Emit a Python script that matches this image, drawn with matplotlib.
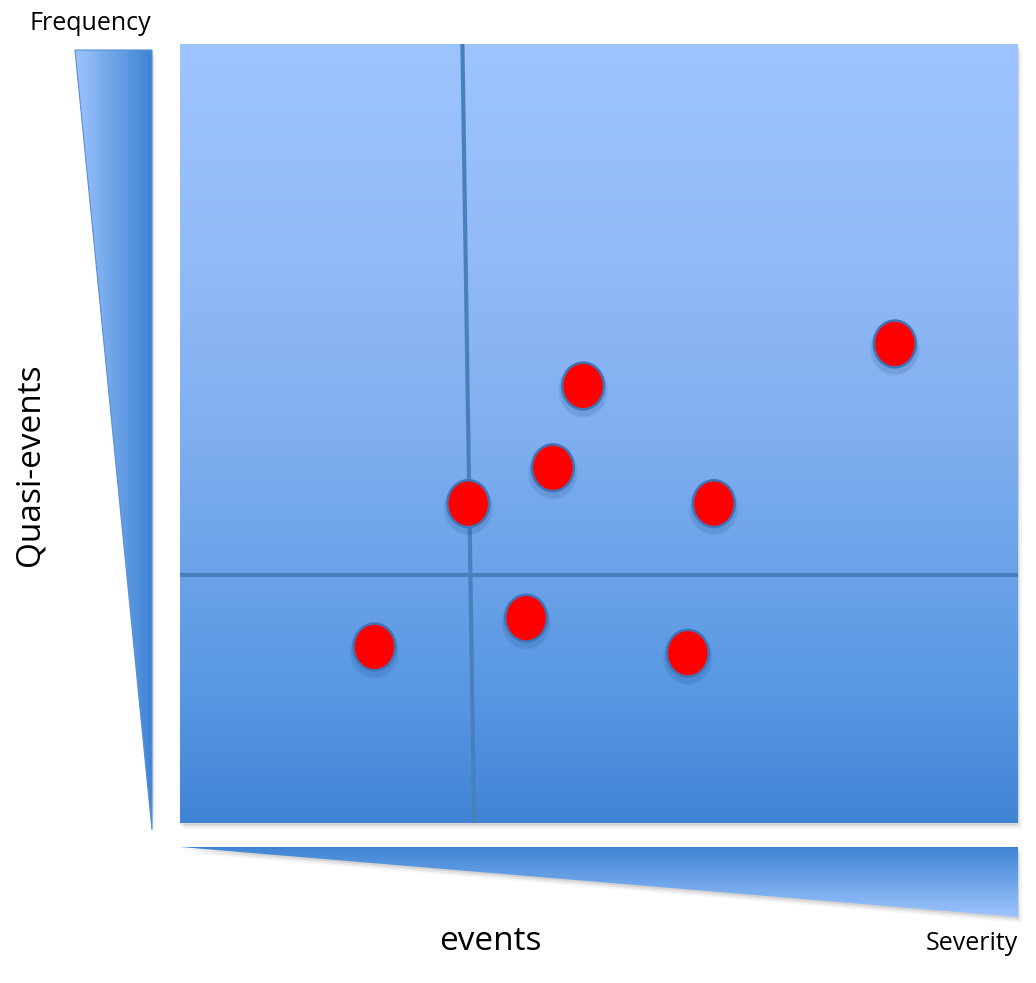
import numpy as np
import matplotlib
matplotlib.use('Agg')
import matplotlib.pyplot as plt
from matplotlib.patches import Polygon, Ellipse
from matplotlib.colors import LinearSegmentedColormap

plt.rcParams['font.family'] = ['Open Sans', 'DejaVu Sans']

# quadrant chart, values on a 0..10 scale
sev = [2.32, 3.44, 4.13, 4.45, 4.81, 6.37, 6.06, 8.53]
freq = [2.26, 4.10, 2.63, 4.56, 5.61, 4.10, 2.18, 6.15]
split_x = (3.37, 3.51)   # vertical divider, top / bottom
split_y = 3.18

W, H = 1036, 983
fig = plt.figure(figsize=(W / 100, H / 100), dpi=100)

# panel fill, dark at bottom -> light at top (not linear)
cmap = LinearSegmentedColormap.from_list('blu', [
    (0.00, '#3f84d4'), (0.04, '#4789d9'), (0.16, '#5797e2'),
    (0.50, '#80aff0'), (0.74, '#93bbf7'), (1.00, '#9dc4fd')])
wedge_cmap = LinearSegmentedColormap.from_list('wb', ['#3f84d4', '#9dc4fd'])
grad = np.linspace(0, 1, 256)

# decoration layer in pixel coordinates
bg = fig.add_axes([0, 0, 1, 1])
bg.set_xlim(0, W)
bg.set_ylim(H, 0)
bg.axis('off')

def shadow(pts):
    for k, a in [(6, 0.04), (4, 0.06), (2, 0.08)]:
        sp = [(x + k * 0.6, y + k) for x, y in pts]
        bg.add_patch(Polygon(sp, closed=True, fc='black', ec='none', alpha=a, zorder=1))

# left wedge (frequency)
left = [(75, 50), (152, 50), (152, 830)]
shadow(left)
p = Polygon(left, closed=True, fc='none', ec='#5a8fd0', lw=0.8, zorder=3)
bg.add_patch(p)
im = bg.imshow(grad[None, :], cmap=wedge_cmap.reversed(), extent=(75, 152, 830, 50),
               aspect='auto', zorder=2)
im.set_clip_path(p)

# bottom wedge (severity)
bottom = [(180, 847), (1018, 847), (1018, 917)]
shadow(bottom)
p2 = Polygon(bottom, closed=True, fc='none', ec='none', zorder=3)
bg.add_patch(p2)
im2 = bg.imshow(grad[:, None], cmap=wedge_cmap, extent=(180, 1018, 917, 847),
                aspect='auto', origin='upper', zorder=2)
im2.set_clip_path(p2)

# main panel shadow
shadow([(180, 44), (1018, 44), (1018, 823), (180, 823)])

ax = fig.add_axes([180 / W, 1 - 823 / H, 838 / W, 779 / H])
ax.set_xlim(0, 10)
ax.set_ylim(0, 10)
ax.imshow(grad[:, None], cmap=cmap, extent=(0, 10, 0, 10), aspect='auto',
          origin='lower', zorder=0)
for s in ax.spines.values():
    s.set_visible(False)
ax.set_xticks([])
ax.set_yticks([])

ax.plot([split_x[0], split_x[1]], [10, 0], color='#4a7fbe', lw=3, zorder=2)
ax.axhline(split_y, color='#4a7fbe', lw=3, zorder=2)

for x, y in zip(sev, freq):
    for k, a in [(0.10, 0.08), (0.06, 0.12)]:
        ax.add_patch(Ellipse((x, y - 0.06), 0.50 + k, 0.60 + k, fc='#1f4f8f',
                             ec='none', alpha=a, zorder=3))
    ax.add_patch(Ellipse((x, y), 0.50, 0.60, fc='#ff0000', ec='#3f74b8',
                         lw=1.8, zorder=4))

fig.text(90 / W, 1 - 23 / H, 'Frequency', ha='center', va='center', fontsize=18)
fig.text(30 / W, 1 - 465 / H, 'Quasi-events', ha='center', va='center',
         fontsize=24, rotation=90)
fig.text(490 / W, 1 - 942 / H, 'events', ha='center', va='center', fontsize=24)
fig.text(1018 / W, 1 - 943 / H, 'Severity', ha='right', va='center', fontsize=18)

fig.savefig('out.png', dpi=100)
